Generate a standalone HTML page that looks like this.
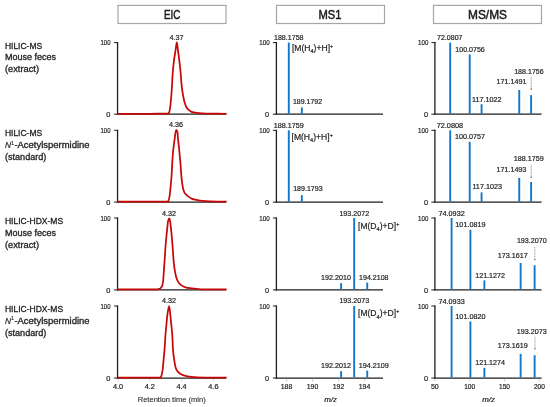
<!DOCTYPE html>
<html><head><meta charset="utf-8"><style>
html,body{margin:0;padding:0;background:#fff;}
body{width:550px;height:407px;overflow:hidden;}
svg{display:block;font-family:'Liberation Sans', Arial, sans-serif;}
text{stroke:#222;stroke-width:0.2px;}
.h{stroke-width:0.45px;}
.l{stroke-width:0.3px;}
</style></head><body>
<svg width="550" height="407" viewBox="0 0 550 407">
<rect width="550" height="407" fill="#fff"/>
<rect x="118" y="5.4" width="108" height="18.1" fill="none" stroke="#a6a6a6" stroke-width="1.2"/>
<rect x="276.5" y="5.4" width="108.0" height="18.1" fill="none" stroke="#a6a6a6" stroke-width="1.2"/>
<rect x="433.5" y="5.4" width="108.0" height="18.1" fill="none" stroke="#a6a6a6" stroke-width="1.2"/>
<text x="164.00" y="19.00" font-size="12" textLength="16.50" lengthAdjust="spacingAndGlyphs" fill="#111" class="h">EIC</text>
<text x="318.50" y="19.00" font-size="12" textLength="23.00" lengthAdjust="spacingAndGlyphs" fill="#111" class="h">MS1</text>
<text x="468.00" y="19.00" font-size="12" textLength="39.00" lengthAdjust="spacingAndGlyphs" fill="#111" class="h">MS/MS</text>
<text x="4.90" y="48.50" font-size="8.9" textLength="37.30" lengthAdjust="spacingAndGlyphs" fill="#1e1e1e" class="l">HILIC-MS</text>
<text x="4.90" y="60.40" font-size="8.9" textLength="51.10" lengthAdjust="spacingAndGlyphs" fill="#1e1e1e" class="l">Mouse feces</text>
<text x="4.90" y="72.30" font-size="8.9" textLength="34.10" lengthAdjust="spacingAndGlyphs" fill="#1e1e1e" class="l">(extract)</text>
<text x="4.90" y="136.30" font-size="8.9" textLength="37.30" lengthAdjust="spacingAndGlyphs" fill="#1e1e1e" class="l">HILIC-MS</text>
<text x="5" y="148.20" font-size="8.9" fill="#1e1e1e" font-style="italic" textLength="6" lengthAdjust="spacingAndGlyphs">N</text>
<text x="11.3" y="144.80" font-size="5.6" fill="#1e1e1e" textLength="2.6" lengthAdjust="spacingAndGlyphs">1</text>
<text x="14.40" y="148.20" font-size="8.9" textLength="75.20" lengthAdjust="spacingAndGlyphs" fill="#1e1e1e" class="l">-Acetylspermidine</text>
<text x="4.90" y="160.10" font-size="8.9" textLength="41.50" lengthAdjust="spacingAndGlyphs" fill="#1e1e1e" class="l">(standard)</text>
<text x="4.90" y="224.20" font-size="8.9" textLength="58.20" lengthAdjust="spacingAndGlyphs" fill="#1e1e1e" class="l">HILIC-HDX-MS</text>
<text x="4.90" y="236.10" font-size="8.9" textLength="51.10" lengthAdjust="spacingAndGlyphs" fill="#1e1e1e" class="l">Mouse feces</text>
<text x="4.90" y="248.00" font-size="8.9" textLength="34.10" lengthAdjust="spacingAndGlyphs" fill="#1e1e1e" class="l">(extract)</text>
<text x="4.90" y="311.70" font-size="8.9" textLength="58.20" lengthAdjust="spacingAndGlyphs" fill="#1e1e1e" class="l">HILIC-HDX-MS</text>
<text x="5" y="323.60" font-size="8.9" fill="#1e1e1e" font-style="italic" textLength="6" lengthAdjust="spacingAndGlyphs">N</text>
<text x="11.3" y="320.20" font-size="5.6" fill="#1e1e1e" textLength="2.6" lengthAdjust="spacingAndGlyphs">1</text>
<text x="14.40" y="323.60" font-size="8.9" textLength="75.20" lengthAdjust="spacingAndGlyphs" fill="#1e1e1e" class="l">-Acetylspermidine</text>
<text x="4.90" y="335.50" font-size="8.9" textLength="41.50" lengthAdjust="spacingAndGlyphs" fill="#1e1e1e" class="l">(standard)</text>
<line x1="117.55" y1="42.10" x2="117.55" y2="114.90" stroke="#1e1e1e" stroke-width="1.3" />
<line x1="114.05" y1="42.60" x2="118.15" y2="42.60" stroke="#1e1e1e" stroke-width="1.0" />
<line x1="114.05" y1="114.20" x2="117.55" y2="114.20" stroke="#1e1e1e" stroke-width="1.0" />
<line x1="116.95" y1="114.20" x2="226.00" y2="114.20" stroke="#1e1e1e" stroke-width="1.25" />
<line x1="276.40" y1="42.10" x2="276.40" y2="114.90" stroke="#1e1e1e" stroke-width="1.3" />
<line x1="272.90" y1="42.60" x2="277.00" y2="42.60" stroke="#1e1e1e" stroke-width="1.0" />
<line x1="272.90" y1="114.20" x2="276.40" y2="114.20" stroke="#1e1e1e" stroke-width="1.0" />
<line x1="275.80" y1="114.20" x2="383.00" y2="114.20" stroke="#1e1e1e" stroke-width="1.25" />
<line x1="434.90" y1="42.10" x2="434.90" y2="114.90" stroke="#1e1e1e" stroke-width="1.3" />
<line x1="431.40" y1="42.60" x2="435.50" y2="42.60" stroke="#1e1e1e" stroke-width="1.0" />
<line x1="431.40" y1="114.20" x2="434.90" y2="114.20" stroke="#1e1e1e" stroke-width="1.0" />
<line x1="434.30" y1="114.20" x2="541.60" y2="114.20" stroke="#1e1e1e" stroke-width="1.25" />
<line x1="117.55" y1="129.80" x2="117.55" y2="202.80" stroke="#1e1e1e" stroke-width="1.3" />
<line x1="114.05" y1="130.30" x2="118.15" y2="130.30" stroke="#1e1e1e" stroke-width="1.0" />
<line x1="114.05" y1="202.10" x2="117.55" y2="202.10" stroke="#1e1e1e" stroke-width="1.0" />
<line x1="116.95" y1="202.10" x2="226.00" y2="202.10" stroke="#1e1e1e" stroke-width="1.25" />
<line x1="276.40" y1="129.80" x2="276.40" y2="202.80" stroke="#1e1e1e" stroke-width="1.3" />
<line x1="272.90" y1="130.30" x2="277.00" y2="130.30" stroke="#1e1e1e" stroke-width="1.0" />
<line x1="272.90" y1="202.10" x2="276.40" y2="202.10" stroke="#1e1e1e" stroke-width="1.0" />
<line x1="275.80" y1="202.10" x2="383.00" y2="202.10" stroke="#1e1e1e" stroke-width="1.25" />
<line x1="434.90" y1="129.80" x2="434.90" y2="202.80" stroke="#1e1e1e" stroke-width="1.3" />
<line x1="431.40" y1="130.30" x2="435.50" y2="130.30" stroke="#1e1e1e" stroke-width="1.0" />
<line x1="431.40" y1="202.10" x2="434.90" y2="202.10" stroke="#1e1e1e" stroke-width="1.0" />
<line x1="434.30" y1="202.10" x2="541.60" y2="202.10" stroke="#1e1e1e" stroke-width="1.25" />
<line x1="117.55" y1="217.50" x2="117.55" y2="290.60" stroke="#1e1e1e" stroke-width="1.3" />
<line x1="114.05" y1="218.00" x2="118.15" y2="218.00" stroke="#1e1e1e" stroke-width="1.0" />
<line x1="114.05" y1="289.90" x2="117.55" y2="289.90" stroke="#1e1e1e" stroke-width="1.0" />
<line x1="116.95" y1="289.90" x2="226.00" y2="289.90" stroke="#1e1e1e" stroke-width="1.25" />
<line x1="276.40" y1="217.50" x2="276.40" y2="290.60" stroke="#1e1e1e" stroke-width="1.3" />
<line x1="272.90" y1="218.00" x2="277.00" y2="218.00" stroke="#1e1e1e" stroke-width="1.0" />
<line x1="272.90" y1="289.90" x2="276.40" y2="289.90" stroke="#1e1e1e" stroke-width="1.0" />
<line x1="275.80" y1="289.90" x2="383.00" y2="289.90" stroke="#1e1e1e" stroke-width="1.25" />
<line x1="434.90" y1="217.50" x2="434.90" y2="290.60" stroke="#1e1e1e" stroke-width="1.3" />
<line x1="431.40" y1="218.00" x2="435.50" y2="218.00" stroke="#1e1e1e" stroke-width="1.0" />
<line x1="431.40" y1="289.90" x2="434.90" y2="289.90" stroke="#1e1e1e" stroke-width="1.0" />
<line x1="434.30" y1="289.90" x2="541.60" y2="289.90" stroke="#1e1e1e" stroke-width="1.25" />
<line x1="117.55" y1="305.50" x2="117.55" y2="378.70" stroke="#1e1e1e" stroke-width="1.3" />
<line x1="114.05" y1="306.00" x2="118.15" y2="306.00" stroke="#1e1e1e" stroke-width="1.0" />
<line x1="114.05" y1="378.00" x2="117.55" y2="378.00" stroke="#1e1e1e" stroke-width="1.0" />
<line x1="116.95" y1="378.00" x2="226.00" y2="378.00" stroke="#1e1e1e" stroke-width="1.25" />
<line x1="276.40" y1="305.50" x2="276.40" y2="378.70" stroke="#1e1e1e" stroke-width="1.3" />
<line x1="272.90" y1="306.00" x2="277.00" y2="306.00" stroke="#1e1e1e" stroke-width="1.0" />
<line x1="272.90" y1="378.00" x2="276.40" y2="378.00" stroke="#1e1e1e" stroke-width="1.0" />
<line x1="275.80" y1="378.00" x2="383.00" y2="378.00" stroke="#1e1e1e" stroke-width="1.25" />
<line x1="434.90" y1="305.50" x2="434.90" y2="378.70" stroke="#1e1e1e" stroke-width="1.3" />
<line x1="431.40" y1="306.00" x2="435.50" y2="306.00" stroke="#1e1e1e" stroke-width="1.0" />
<line x1="431.40" y1="378.00" x2="434.90" y2="378.00" stroke="#1e1e1e" stroke-width="1.0" />
<line x1="434.30" y1="378.00" x2="541.60" y2="378.00" stroke="#1e1e1e" stroke-width="1.25" />
<text x="100.50" y="45.20" font-size="7.3" textLength="10.10" lengthAdjust="spacingAndGlyphs" fill="#1e1e1e" >100</text>
<text x="106.30" y="116.80" font-size="7.3" textLength="4.10" lengthAdjust="spacingAndGlyphs" fill="#1e1e1e" >0</text>
<text x="259.30" y="45.20" font-size="7.3" textLength="10.30" lengthAdjust="spacingAndGlyphs" fill="#1e1e1e" >100</text>
<text x="265.00" y="116.80" font-size="7.3" textLength="4.10" lengthAdjust="spacingAndGlyphs" fill="#1e1e1e" >0</text>
<text x="418.10" y="45.20" font-size="7.3" textLength="10.20" lengthAdjust="spacingAndGlyphs" fill="#1e1e1e" >100</text>
<text x="424.00" y="116.80" font-size="7.3" textLength="4.10" lengthAdjust="spacingAndGlyphs" fill="#1e1e1e" >0</text>
<text x="100.50" y="132.90" font-size="7.3" textLength="10.10" lengthAdjust="spacingAndGlyphs" fill="#1e1e1e" >100</text>
<text x="106.30" y="204.70" font-size="7.3" textLength="4.10" lengthAdjust="spacingAndGlyphs" fill="#1e1e1e" >0</text>
<text x="259.30" y="132.90" font-size="7.3" textLength="10.30" lengthAdjust="spacingAndGlyphs" fill="#1e1e1e" >100</text>
<text x="265.00" y="204.70" font-size="7.3" textLength="4.10" lengthAdjust="spacingAndGlyphs" fill="#1e1e1e" >0</text>
<text x="418.10" y="132.90" font-size="7.3" textLength="10.20" lengthAdjust="spacingAndGlyphs" fill="#1e1e1e" >100</text>
<text x="424.00" y="204.70" font-size="7.3" textLength="4.10" lengthAdjust="spacingAndGlyphs" fill="#1e1e1e" >0</text>
<text x="100.50" y="220.60" font-size="7.3" textLength="10.10" lengthAdjust="spacingAndGlyphs" fill="#1e1e1e" >100</text>
<text x="106.30" y="292.50" font-size="7.3" textLength="4.10" lengthAdjust="spacingAndGlyphs" fill="#1e1e1e" >0</text>
<text x="259.30" y="220.60" font-size="7.3" textLength="10.30" lengthAdjust="spacingAndGlyphs" fill="#1e1e1e" >100</text>
<text x="265.00" y="292.50" font-size="7.3" textLength="4.10" lengthAdjust="spacingAndGlyphs" fill="#1e1e1e" >0</text>
<text x="418.10" y="220.60" font-size="7.3" textLength="10.20" lengthAdjust="spacingAndGlyphs" fill="#1e1e1e" >100</text>
<text x="424.00" y="292.50" font-size="7.3" textLength="4.10" lengthAdjust="spacingAndGlyphs" fill="#1e1e1e" >0</text>
<text x="100.50" y="308.60" font-size="7.3" textLength="10.10" lengthAdjust="spacingAndGlyphs" fill="#1e1e1e" >100</text>
<text x="106.30" y="380.60" font-size="7.3" textLength="4.10" lengthAdjust="spacingAndGlyphs" fill="#1e1e1e" >0</text>
<text x="259.30" y="308.60" font-size="7.3" textLength="10.30" lengthAdjust="spacingAndGlyphs" fill="#1e1e1e" >100</text>
<text x="265.00" y="380.60" font-size="7.3" textLength="4.10" lengthAdjust="spacingAndGlyphs" fill="#1e1e1e" >0</text>
<text x="418.10" y="308.60" font-size="7.3" textLength="10.20" lengthAdjust="spacingAndGlyphs" fill="#1e1e1e" >100</text>
<text x="424.00" y="380.60" font-size="7.3" textLength="4.10" lengthAdjust="spacingAndGlyphs" fill="#1e1e1e" >0</text>
<line x1="118.00" y1="378.80" x2="118.00" y2="381.60" stroke="#bfbfbf" stroke-width="0.7" />
<text x="112.90" y="389.00" font-size="7.3" textLength="10.20" lengthAdjust="spacingAndGlyphs" fill="#1e1e1e" >4.0</text>
<line x1="149.80" y1="378.80" x2="149.80" y2="381.60" stroke="#bfbfbf" stroke-width="0.7" />
<text x="144.70" y="389.00" font-size="7.3" textLength="10.20" lengthAdjust="spacingAndGlyphs" fill="#1e1e1e" >4.2</text>
<line x1="181.60" y1="378.80" x2="181.60" y2="381.60" stroke="#bfbfbf" stroke-width="0.7" />
<text x="176.50" y="389.00" font-size="7.3" textLength="10.20" lengthAdjust="spacingAndGlyphs" fill="#1e1e1e" >4.4</text>
<line x1="213.40" y1="378.80" x2="213.40" y2="381.60" stroke="#bfbfbf" stroke-width="0.7" />
<text x="208.30" y="389.00" font-size="7.3" textLength="10.20" lengthAdjust="spacingAndGlyphs" fill="#1e1e1e" >4.6</text>
<line x1="286.50" y1="378.80" x2="286.50" y2="381.60" stroke="#bfbfbf" stroke-width="0.7" />
<text x="280.75" y="389.00" font-size="7.3" textLength="11.50" lengthAdjust="spacingAndGlyphs" fill="#1e1e1e" >188</text>
<line x1="312.50" y1="378.80" x2="312.50" y2="381.60" stroke="#bfbfbf" stroke-width="0.7" />
<text x="306.75" y="389.00" font-size="7.3" textLength="11.50" lengthAdjust="spacingAndGlyphs" fill="#1e1e1e" >190</text>
<line x1="338.50" y1="378.80" x2="338.50" y2="381.60" stroke="#bfbfbf" stroke-width="0.7" />
<text x="332.75" y="389.00" font-size="7.3" textLength="11.50" lengthAdjust="spacingAndGlyphs" fill="#1e1e1e" >192</text>
<line x1="364.50" y1="378.80" x2="364.50" y2="381.60" stroke="#bfbfbf" stroke-width="0.7" />
<text x="358.75" y="389.00" font-size="7.3" textLength="11.50" lengthAdjust="spacingAndGlyphs" fill="#1e1e1e" >194</text>
<line x1="434.80" y1="378.80" x2="434.80" y2="381.60" stroke="#bfbfbf" stroke-width="0.7" />
<text x="430.90" y="389.00" font-size="7.3" textLength="7.80" lengthAdjust="spacingAndGlyphs" fill="#1e1e1e" >50</text>
<line x1="469.70" y1="378.80" x2="469.70" y2="381.60" stroke="#bfbfbf" stroke-width="0.7" />
<text x="464.20" y="389.00" font-size="7.3" textLength="11.00" lengthAdjust="spacingAndGlyphs" fill="#1e1e1e" >100</text>
<line x1="504.55" y1="378.80" x2="504.55" y2="381.60" stroke="#bfbfbf" stroke-width="0.7" />
<text x="499.05" y="389.00" font-size="7.3" textLength="11.00" lengthAdjust="spacingAndGlyphs" fill="#1e1e1e" >150</text>
<line x1="539.40" y1="378.80" x2="539.40" y2="381.60" stroke="#bfbfbf" stroke-width="0.7" />
<text x="533.90" y="389.00" font-size="7.3" textLength="11.00" lengthAdjust="spacingAndGlyphs" fill="#1e1e1e" >200</text>
<text x="137.70" y="402.40" font-size="7.5" textLength="68.00" lengthAdjust="spacingAndGlyphs" fill="#1e1e1e" style="stroke-width:0.08px">Retention time (min)</text>
<text x="324.2" y="402.2" font-size="7.6" font-style="italic" fill="#1e1e1e" textLength="12.7" lengthAdjust="spacingAndGlyphs">m/z</text>
<text x="482.2" y="402.2" font-size="7.6" font-style="italic" fill="#1e1e1e" textLength="12.7" lengthAdjust="spacingAndGlyphs">m/z</text>
<path d="M118.00,113.75 C123.33,113.75 143.00,113.78 150.00,113.75 C157.00,113.72 157.10,113.57 160.00,113.55 C162.90,113.53 166.00,113.67 167.40,113.65 C168.80,113.63 168.07,113.77 168.40,113.45 C168.73,113.13 169.07,113.08 169.40,111.75 C169.73,110.42 170.08,108.17 170.40,105.50 C170.72,102.83 171.03,98.98 171.30,95.70 C171.57,92.42 171.80,89.08 172.00,85.80 C172.20,82.52 172.33,78.72 172.50,76.00 C172.67,73.28 172.73,72.22 173.00,69.50 C173.27,66.78 173.67,62.98 174.10,59.70 C174.53,56.42 175.15,52.68 175.60,49.80 C176.05,46.92 176.42,42.40 176.80,42.40 C177.18,42.40 177.50,46.92 177.90,49.80 C178.30,52.68 178.80,56.42 179.20,59.70 C179.60,62.98 180.02,66.78 180.30,69.50 C180.58,72.22 180.67,73.28 180.90,76.00 C181.13,78.72 181.33,82.52 181.70,85.80 C182.07,89.08 182.62,92.92 183.10,95.70 C183.58,98.48 184.02,100.53 184.60,102.50 C185.18,104.47 185.93,106.27 186.60,107.50 C187.27,108.73 187.78,109.18 188.60,109.90 C189.42,110.62 190.37,111.39 191.50,111.85 C192.63,112.31 193.60,112.40 195.40,112.65 C197.20,112.90 199.87,113.18 202.30,113.35 C204.73,113.52 206.05,113.58 210.00,113.65 C213.95,113.72 223.33,113.73 226.00,113.75" fill="none" stroke="#c80808" stroke-width="1.75" stroke-linejoin="round" stroke-linecap="round"/>
<path d="M118.00,201.65 C123.33,201.65 141.83,201.65 150.00,201.65 C158.17,201.65 164.02,201.68 167.00,201.65 C169.98,201.62 167.55,201.92 167.90,201.45 C168.25,200.98 168.77,200.17 169.10,198.85 C169.43,197.53 169.60,196.03 169.90,193.50 C170.20,190.97 170.60,186.98 170.90,183.70 C171.20,180.42 171.48,177.08 171.70,173.80 C171.92,170.52 172.05,166.72 172.20,164.00 C172.35,161.28 172.38,160.22 172.60,157.50 C172.82,154.78 173.13,150.98 173.50,147.70 C173.87,144.42 174.38,140.70 174.80,137.80 C175.22,134.90 175.55,131.20 176.00,130.30 C176.45,129.40 177.18,131.15 177.50,132.40 C177.82,133.65 177.65,135.25 177.90,137.80 C178.15,140.35 178.67,144.42 179.00,147.70 C179.33,150.98 179.63,154.62 179.90,157.50 C180.17,160.38 180.38,162.28 180.60,165.00 C180.82,167.72 180.93,170.68 181.20,173.80 C181.47,176.92 181.80,180.92 182.20,183.70 C182.60,186.48 183.12,188.87 183.60,190.50 C184.08,192.13 184.35,192.52 185.10,193.50 C185.85,194.48 186.95,195.51 188.10,196.40 C189.25,197.29 190.62,198.28 192.00,198.85 C193.38,199.42 194.68,199.52 196.40,199.85 C198.12,200.18 200.03,200.60 202.30,200.85 C204.57,201.10 206.05,201.22 210.00,201.35 C213.95,201.48 223.33,201.60 226.00,201.65" fill="none" stroke="#c80808" stroke-width="1.75" stroke-linejoin="round" stroke-linecap="round"/>
<path d="M118.00,289.45 C123.33,289.45 143.83,289.47 150.00,289.45 C156.17,289.43 153.58,289.42 155.00,289.35 C156.42,289.28 157.60,289.22 158.50,289.05 C159.40,288.88 159.80,288.88 160.40,288.35 C161.00,287.82 161.65,287.04 162.10,285.90 C162.55,284.76 162.82,283.87 163.10,281.50 C163.38,279.13 163.57,274.98 163.80,271.70 C164.03,268.42 164.28,264.83 164.50,261.80 C164.72,258.77 164.92,256.22 165.10,253.50 C165.28,250.78 165.37,248.47 165.60,245.50 C165.83,242.53 166.18,238.98 166.50,235.70 C166.82,232.42 167.23,228.27 167.50,225.80 C167.77,223.33 167.80,222.13 168.10,220.90 C168.40,219.67 168.98,218.40 169.30,218.40 C169.62,218.40 169.77,219.67 170.00,220.90 C170.23,222.13 170.42,223.33 170.70,225.80 C170.98,228.27 171.40,232.42 171.70,235.70 C172.00,238.98 172.27,242.53 172.50,245.50 C172.73,248.47 172.90,250.78 173.10,253.50 C173.30,256.22 173.38,258.77 173.70,261.80 C174.02,264.83 174.52,268.92 175.00,271.70 C175.48,274.48 176.00,276.70 176.60,278.50 C177.20,280.30 177.78,281.35 178.60,282.50 C179.42,283.65 180.35,284.59 181.50,285.40 C182.65,286.21 183.85,286.86 185.50,287.35 C187.15,287.84 189.48,288.08 191.40,288.35 C193.32,288.62 194.73,288.78 197.00,288.95 C199.27,289.12 200.17,289.27 205.00,289.35 C209.83,289.43 222.50,289.43 226.00,289.45" fill="none" stroke="#c80808" stroke-width="1.75" stroke-linejoin="round" stroke-linecap="round"/>
<path d="M118.00,377.65 C123.33,377.65 143.08,377.65 150.00,377.65 C156.92,377.65 157.72,377.70 159.50,377.65 C161.28,377.60 160.33,377.82 160.70,377.35 C161.07,376.88 161.37,376.16 161.70,374.85 C162.03,373.54 162.38,372.02 162.70,369.50 C163.02,366.98 163.30,362.98 163.60,359.70 C163.90,356.42 164.25,352.83 164.50,349.80 C164.75,346.77 164.92,344.22 165.10,341.50 C165.28,338.78 165.37,336.47 165.60,333.50 C165.83,330.53 166.18,326.98 166.50,323.70 C166.82,320.42 167.07,316.73 167.50,313.80 C167.93,310.87 168.65,306.10 169.10,306.10 C169.55,306.10 169.85,310.87 170.20,313.80 C170.55,316.73 170.87,320.42 171.20,323.70 C171.53,326.98 171.97,330.53 172.20,333.50 C172.43,336.47 172.47,338.78 172.60,341.50 C172.73,344.22 172.73,346.77 173.00,349.80 C173.27,352.83 173.77,356.75 174.20,359.70 C174.63,362.65 175.03,365.55 175.60,367.50 C176.17,369.45 176.77,370.33 177.60,371.40 C178.43,372.47 179.28,373.16 180.60,373.90 C181.92,374.64 183.70,375.36 185.50,375.85 C187.30,376.34 189.48,376.60 191.40,376.85 C193.32,377.10 194.73,377.23 197.00,377.35 C199.27,377.47 200.17,377.50 205.00,377.55 C209.83,377.60 222.50,377.63 226.00,377.65" fill="none" stroke="#c80808" stroke-width="1.75" stroke-linejoin="round" stroke-linecap="round"/>
<text x="169.50" y="40.00" font-size="7.3" textLength="14.00" lengthAdjust="spacingAndGlyphs" fill="#1e1e1e" >4.37</text>
<text x="169.00" y="127.20" font-size="7.3" textLength="14.00" lengthAdjust="spacingAndGlyphs" fill="#1e1e1e" >4.36</text>
<text x="162.00" y="215.50" font-size="7.3" textLength="14.00" lengthAdjust="spacingAndGlyphs" fill="#1e1e1e" >4.32</text>
<text x="162.00" y="303.40" font-size="7.3" textLength="14.00" lengthAdjust="spacingAndGlyphs" fill="#1e1e1e" >4.32</text>
<line x1="288.79" y1="113.80" x2="288.79" y2="42.60" stroke="#1277ca" stroke-width="1.9" />
<line x1="301.83" y1="113.80" x2="301.83" y2="107.40" stroke="#1277ca" stroke-width="1.9" />
<line x1="288.79" y1="201.70" x2="288.79" y2="130.30" stroke="#1277ca" stroke-width="1.9" />
<line x1="301.83" y1="201.70" x2="301.83" y2="195.14" stroke="#1277ca" stroke-width="1.9" />
<line x1="341.11" y1="289.50" x2="341.11" y2="283.07" stroke="#1277ca" stroke-width="1.9" />
<line x1="354.19" y1="289.50" x2="354.19" y2="218.00" stroke="#1277ca" stroke-width="1.9" />
<line x1="367.24" y1="289.50" x2="367.24" y2="282.57" stroke="#1277ca" stroke-width="1.9" />
<line x1="341.12" y1="377.60" x2="341.12" y2="371.16" stroke="#1277ca" stroke-width="1.9" />
<line x1="354.19" y1="377.60" x2="354.19" y2="306.00" stroke="#1277ca" stroke-width="1.9" />
<line x1="367.24" y1="377.60" x2="367.24" y2="370.66" stroke="#1277ca" stroke-width="1.9" />
<text x="274.00" y="40.00" font-size="7.3" textLength="29.50" lengthAdjust="spacingAndGlyphs" fill="#1e1e1e" >188.1758</text>
<text x="293.00" y="103.50" font-size="7.3" textLength="29.00" lengthAdjust="spacingAndGlyphs" fill="#1e1e1e" >189.1792</text>
<text x="273.80" y="127.70" font-size="7.3" textLength="30.00" lengthAdjust="spacingAndGlyphs" fill="#1e1e1e" >188.1759</text>
<text x="293.20" y="191.40" font-size="7.3" textLength="29.40" lengthAdjust="spacingAndGlyphs" fill="#1e1e1e" >189.1793</text>
<text x="339.40" y="216.00" font-size="7.3" textLength="29.70" lengthAdjust="spacingAndGlyphs" fill="#1e1e1e" >193.2072</text>
<text x="321.10" y="280.10" font-size="7.3" textLength="29.80" lengthAdjust="spacingAndGlyphs" fill="#1e1e1e" >192.2010</text>
<text x="359.10" y="280.10" font-size="7.3" textLength="29.40" lengthAdjust="spacingAndGlyphs" fill="#1e1e1e" >194.2108</text>
<text x="339.40" y="303.40" font-size="7.3" textLength="29.70" lengthAdjust="spacingAndGlyphs" fill="#1e1e1e" >193.2073</text>
<text x="321.10" y="368.10" font-size="7.3" textLength="29.80" lengthAdjust="spacingAndGlyphs" fill="#1e1e1e" >192.2012</text>
<text x="358.80" y="368.10" font-size="7.3" textLength="30.00" lengthAdjust="spacingAndGlyphs" fill="#1e1e1e" >194.2109</text>
<text x="291.9" y="51" font-size="8.5" fill="#1e1e1e" textLength="41.2" lengthAdjust="spacingAndGlyphs">[M(H<tspan font-size="5.6" dy="2.2">4</tspan><tspan dy="-2.2">)+H]</tspan><tspan font-size="5.2" dy="-3.4">+</tspan></text>
<text x="291.5" y="140" font-size="8.5" fill="#1e1e1e" textLength="41.2" lengthAdjust="spacingAndGlyphs">[M(H<tspan font-size="5.6" dy="2.2">4</tspan><tspan dy="-2.2">)+H]</tspan><tspan font-size="5.2" dy="-3.4">+</tspan></text>
<text x="358.0" y="229" font-size="8.5" fill="#1e1e1e" textLength="41.2" lengthAdjust="spacingAndGlyphs">[M(D<tspan font-size="5.6" dy="2.2">4</tspan><tspan dy="-2.2">)+D]</tspan><tspan font-size="5.2" dy="-3.4">+</tspan></text>
<text x="358.0" y="316.4" font-size="8.5" fill="#1e1e1e" textLength="41.2" lengthAdjust="spacingAndGlyphs">[M(D<tspan font-size="5.6" dy="2.2">4</tspan><tspan dy="-2.2">)+D]</tspan><tspan font-size="5.2" dy="-3.4">+</tspan></text>
<line x1="450.19" y1="113.80" x2="450.19" y2="42.60" stroke="#1277ca" stroke-width="1.9" />
<line x1="469.70" y1="113.80" x2="469.70" y2="54.41" stroke="#1277ca" stroke-width="1.9" />
<line x1="481.57" y1="113.80" x2="481.57" y2="104.25" stroke="#1277ca" stroke-width="1.9" />
<line x1="519.24" y1="113.80" x2="519.24" y2="90.00" stroke="#1277ca" stroke-width="1.9" />
<line x1="531.11" y1="113.80" x2="531.11" y2="95.15" stroke="#1277ca" stroke-width="1.9" />
<line x1="450.19" y1="201.70" x2="450.19" y2="130.30" stroke="#1277ca" stroke-width="1.9" />
<line x1="469.70" y1="201.70" x2="469.70" y2="141.79" stroke="#1277ca" stroke-width="1.9" />
<line x1="481.57" y1="201.70" x2="481.57" y2="192.34" stroke="#1277ca" stroke-width="1.9" />
<line x1="519.24" y1="201.70" x2="519.24" y2="177.90" stroke="#1277ca" stroke-width="1.9" />
<line x1="531.11" y1="201.70" x2="531.11" y2="182.00" stroke="#1277ca" stroke-width="1.9" />
<line x1="451.59" y1="289.50" x2="451.59" y2="218.00" stroke="#1277ca" stroke-width="1.9" />
<line x1="470.40" y1="289.50" x2="470.40" y2="229.72" stroke="#1277ca" stroke-width="1.9" />
<line x1="484.38" y1="289.50" x2="484.38" y2="280.34" stroke="#1277ca" stroke-width="1.9" />
<line x1="520.64" y1="289.50" x2="520.64" y2="263.01" stroke="#1277ca" stroke-width="1.9" />
<line x1="534.62" y1="289.50" x2="534.62" y2="265.31" stroke="#1277ca" stroke-width="1.9" />
<line x1="451.59" y1="377.60" x2="451.59" y2="306.00" stroke="#1277ca" stroke-width="1.9" />
<line x1="470.40" y1="377.60" x2="470.40" y2="321.41" stroke="#1277ca" stroke-width="1.9" />
<line x1="484.38" y1="377.60" x2="484.38" y2="367.92" stroke="#1277ca" stroke-width="1.9" />
<line x1="520.64" y1="377.60" x2="520.64" y2="353.88" stroke="#1277ca" stroke-width="1.9" />
<line x1="534.62" y1="377.60" x2="534.62" y2="355.18" stroke="#1277ca" stroke-width="1.9" />
<text x="437.00" y="40.00" font-size="7.3" textLength="25.50" lengthAdjust="spacingAndGlyphs" fill="#1e1e1e" >72.0807</text>
<text x="455.30" y="51.60" font-size="7.3" textLength="29.50" lengthAdjust="spacingAndGlyphs" fill="#1e1e1e" >100.0756</text>
<text x="472.00" y="101.80" font-size="7.3" textLength="29.60" lengthAdjust="spacingAndGlyphs" fill="#1e1e1e" >117.1022</text>
<text x="496.50" y="84.20" font-size="7.3" textLength="29.90" lengthAdjust="spacingAndGlyphs" fill="#1e1e1e" >171.1491</text>
<text x="514.20" y="73.70" font-size="7.3" textLength="29.50" lengthAdjust="spacingAndGlyphs" fill="#1e1e1e" >188.1756</text>
<text x="436.70" y="127.70" font-size="7.3" textLength="26.50" lengthAdjust="spacingAndGlyphs" fill="#1e1e1e" >72.0808</text>
<text x="455.00" y="139.20" font-size="7.3" textLength="30.00" lengthAdjust="spacingAndGlyphs" fill="#1e1e1e" >100.0757</text>
<text x="472.40" y="188.80" font-size="7.3" textLength="29.60" lengthAdjust="spacingAndGlyphs" fill="#1e1e1e" >117.1023</text>
<text x="496.50" y="172.40" font-size="7.3" textLength="29.80" lengthAdjust="spacingAndGlyphs" fill="#1e1e1e" >171.1493</text>
<text x="513.80" y="161.00" font-size="7.3" textLength="30.00" lengthAdjust="spacingAndGlyphs" fill="#1e1e1e" >188.1759</text>
<text x="438.50" y="215.70" font-size="7.3" textLength="26.20" lengthAdjust="spacingAndGlyphs" fill="#1e1e1e" >74.0932</text>
<text x="455.30" y="227.00" font-size="7.3" textLength="30.30" lengthAdjust="spacingAndGlyphs" fill="#1e1e1e" >101.0819</text>
<text x="475.20" y="277.50" font-size="7.3" textLength="29.80" lengthAdjust="spacingAndGlyphs" fill="#1e1e1e" >121.1272</text>
<text x="497.80" y="257.70" font-size="7.3" textLength="30.00" lengthAdjust="spacingAndGlyphs" fill="#1e1e1e" >173.1617</text>
<text x="516.90" y="242.60" font-size="7.3" textLength="29.80" lengthAdjust="spacingAndGlyphs" fill="#1e1e1e" >193.2070</text>
<text x="438.50" y="303.50" font-size="7.3" textLength="26.20" lengthAdjust="spacingAndGlyphs" fill="#1e1e1e" >74.0933</text>
<text x="455.30" y="319.30" font-size="7.3" textLength="30.30" lengthAdjust="spacingAndGlyphs" fill="#1e1e1e" >101.0820</text>
<text x="475.20" y="365.20" font-size="7.3" textLength="29.80" lengthAdjust="spacingAndGlyphs" fill="#1e1e1e" >121.1274</text>
<text x="497.80" y="348.40" font-size="7.3" textLength="30.00" lengthAdjust="spacingAndGlyphs" fill="#1e1e1e" >173.1619</text>
<text x="516.80" y="333.50" font-size="7.3" textLength="29.90" lengthAdjust="spacingAndGlyphs" fill="#1e1e1e" >193.2073</text>
<line x1="531.20" y1="77.00" x2="531.20" y2="89.20" stroke="#8a8a8a" stroke-width="0.8" stroke-dasharray="1,0.5"/>
<path d="M530.30,88.60 L532.10,88.60 L531.20,90.20 Z" fill="#555"/>
<line x1="531.20" y1="164.60" x2="531.20" y2="177.40" stroke="#8a8a8a" stroke-width="0.8" stroke-dasharray="1,0.5"/>
<path d="M530.30,176.80 L532.10,176.80 L531.20,178.40 Z" fill="#555"/>
<line x1="534.80" y1="247.00" x2="534.80" y2="259.60" stroke="#8a8a8a" stroke-width="0.8" stroke-dasharray="1,0.5"/>
<path d="M533.90,259.00 L535.70,259.00 L534.80,260.60 Z" fill="#555"/>
<line x1="535.00" y1="336.70" x2="535.00" y2="349.00" stroke="#8a8a8a" stroke-width="0.8" stroke-dasharray="1,0.5"/>
<path d="M534.10,348.40 L535.90,348.40 L535.00,350.00 Z" fill="#555"/>
</svg>
</body></html>
